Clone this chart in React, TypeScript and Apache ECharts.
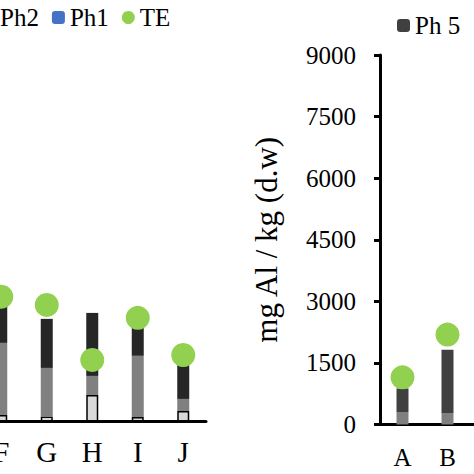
import { useEffect, useRef } from "react";
import * as echarts from "echarts";

const leftCats = ["F", "G", "H", "I", "J"];
const leftPh1 = [160, 120, 645, 110, 255];
const leftPh2 = [1755, 1185, 465, 1490, 295];
const leftPh3 = [925, 1195, 1535, 840, 950];
const leftTE = [3040, 2840, 1500, 2525, 1620];

const rightCats = ["A", "B", "C", "D", "E"];
const rightPh4 = [305, 280, null, null, null];
const rightPh5 = [575, 1540, null, null, null];
const rightTE = [1150, 2190, null, null, null];

const yTicks = [0, 1500, 3000, 4500, 6000, 7500, 9000];

const FONT = "'Liberation Serif', 'Times New Roman', serif";
const FS = 25;
const GREEN = "#92d050";

export default function App() {
  const chartRef = useRef<HTMLDivElement>(null);

  useEffect(() => {
    if (!chartRef.current) return;
    const chart = echarts.init(chartRef.current, null, { renderer: "svg" });

    const xAxisBase = {
      type: "category" as const,
      axisLine: { lineStyle: { color: "#000", width: 3 } },
      axisTick: { length: 6, lineStyle: { color: "#000", width: 3 } },
    };

    chart.setOption({
      animation: false,
      backgroundColor: "#fff",
      textStyle: { fontFamily: FONT },
      legend: [
        {
          left: -18,
          top: 5,
          padding: 0,
          itemWidth: 13,
          itemHeight: 13,
          itemGap: 13,
          textStyle: { fontSize: FS, color: "#000", fontFamily: FONT },
          data: [
            "Ph2",
            { name: "Ph1", itemStyle: { color: "#4472c4", borderWidth: 0 } },
            { name: "TE", icon: "circle" },
          ],
        },
        {
          left: 397,
          top: 13,
          padding: 0,
          itemWidth: 13,
          itemHeight: 13,
          textStyle: { fontSize: FS, color: "#000", fontFamily: FONT },
          data: ["Ph 5"],
        },
      ],
      grid: [
        { left: -21.5, width: 227.5, top: 52, height: 369.5, outerBoundsMode: "none" },
        { left: 380, width: 225, top: 55, height: 369.5, outerBoundsMode: "none" },
      ],
      xAxis: [
        {
          ...xAxisBase,
          gridIndex: 0,
          data: leftCats,
          axisLabel: { fontSize: 29, color: "#000", fontFamily: FONT, margin: 16, interval: 0 },
        },
        {
          ...xAxisBase,
          gridIndex: 1,
          data: rightCats,
          axisLabel: {
            fontSize: FS,
            color: "#000",
            fontFamily: FONT,
            margin: 20,
            interval: (i: number) => i < 2,
          },
        },
      ],
      yAxis: [
        { type: "value", gridIndex: 0, min: 0, max: 9000, show: false },
        {
          type: "value",
          gridIndex: 1,
          min: yTicks[0],
          max: yTicks[yTicks.length - 1],
          interval: 1500,
          name: "mg Al / kg (d.w)",
          nameLocation: "middle",
          nameGap: 98,
          nameTextStyle: { fontSize: 31, color: "#000", fontFamily: FONT },
          axisLine: { show: true, lineStyle: { color: "#000", width: 3 } },
          axisTick: { show: true, length: 6, lineStyle: { color: "#000", width: 3 } },
          axisLabel: {
            fontSize: FS,
            color: "#000",
            fontFamily: FONT,
            margin: 24,
            formatter: (v: number) => String(v),
          },
          splitLine: { show: false },
        },
      ],
      series: [
        {
          name: "Ph1",
          type: "bar",
          stack: "left",
          xAxisIndex: 0,
          yAxisIndex: 0,
          barWidth: 12,
          data: leftPh1,
          itemStyle: { color: "#d9d9d9", borderColor: "#000", borderWidth: 1.5 },
        },
        {
          name: "Ph2",
          type: "bar",
          stack: "left",
          xAxisIndex: 0,
          yAxisIndex: 0,
          barWidth: 12,
          data: leftPh2,
          itemStyle: { color: "#808080" },
        },
        {
          name: "Ph3",
          type: "bar",
          stack: "left",
          xAxisIndex: 0,
          yAxisIndex: 0,
          barWidth: 12,
          data: leftPh3,
          itemStyle: { color: "#262626" },
        },
        {
          name: "TE",
          type: "scatter",
          xAxisIndex: 0,
          yAxisIndex: 0,
          symbolSize: 24,
          data: leftTE,
          itemStyle: { color: GREEN, opacity: 1 },
          z: 5,
        },
        {
          name: "Ph 4",
          type: "bar",
          stack: "right",
          xAxisIndex: 1,
          yAxisIndex: 1,
          barWidth: 12,
          data: rightPh4,
          itemStyle: { color: "#808080" },
        },
        {
          name: "Ph 5",
          type: "bar",
          stack: "right",
          xAxisIndex: 1,
          yAxisIndex: 1,
          barWidth: 12,
          data: rightPh5,
          itemStyle: { color: "#404040" },
        },
        {
          name: "TE",
          type: "scatter",
          xAxisIndex: 1,
          yAxisIndex: 1,
          symbolSize: 24,
          data: rightTE,
          itemStyle: { color: GREEN, opacity: 1 },
          z: 5,
        },
      ],
    });

    return () => chart.dispose();
  }, []);

  return (
    <div
      ref={chartRef}
      style={{ position: "fixed", left: 0, top: 0, width: 474, height: 474 }}
    />
  );
}
